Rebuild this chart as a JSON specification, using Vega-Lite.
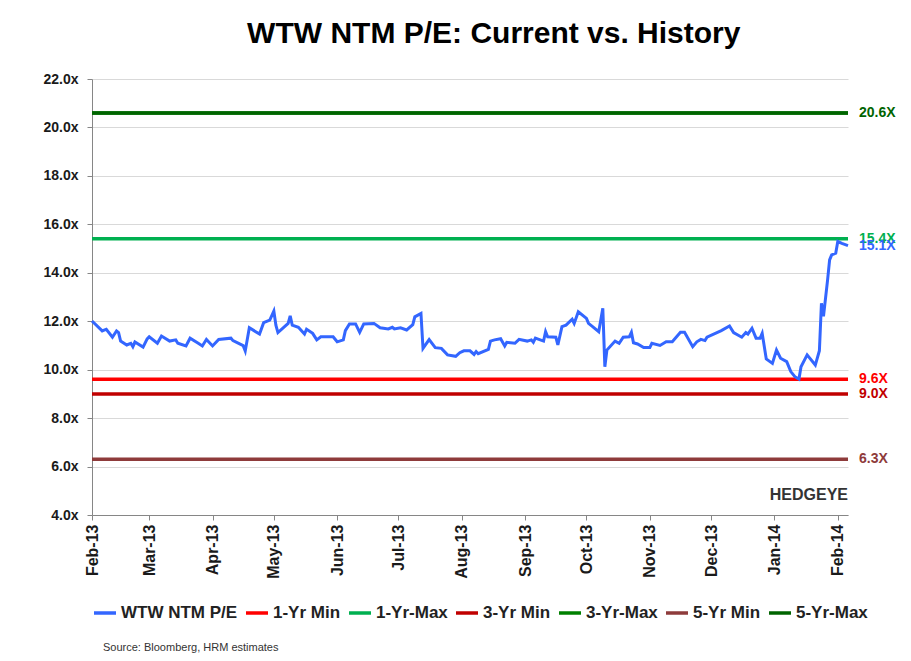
{
  "$schema": "https://vega.github.io/schema/vega-lite/v6.json",
  "background": "white",
  "padding": {"left": 42, "top": 19, "right": 5, "bottom": 5},
  "title": {"text": "WTW NTM P/E: Current vs. History", "fontSize": 30, "font": "Liberation Sans", "fontWeight": "bold", "color": "#000000", "anchor": "middle", "offset": 23, "dx": 25},
  "datasets": {
    "pe": [
      {"date": "2013-02-01", "value": 12.01}, {"date": "2013-02-06", "value": 11.60}, {"date": "2013-02-08", "value": 11.67},
      {"date": "2013-02-11", "value": 11.34}, {"date": "2013-02-13", "value": 11.60}, {"date": "2013-02-14", "value": 11.53},
      {"date": "2013-02-15", "value": 11.18}, {"date": "2013-02-18", "value": 11.02}, {"date": "2013-02-20", "value": 11.09},
      {"date": "2013-02-21", "value": 10.95}, {"date": "2013-02-22", "value": 11.14}, {"date": "2013-02-26", "value": 10.93},
      {"date": "2013-02-28", "value": 11.27}, {"date": "2013-03-01", "value": 11.36}, {"date": "2013-03-05", "value": 11.09},
      {"date": "2013-03-07", "value": 11.39}, {"date": "2013-03-11", "value": 11.18}, {"date": "2013-03-14", "value": 11.23},
      {"date": "2013-03-15", "value": 11.09}, {"date": "2013-03-19", "value": 10.98}, {"date": "2013-03-21", "value": 11.30},
      {"date": "2013-03-25", "value": 11.09}, {"date": "2013-03-27", "value": 10.98}, {"date": "2013-03-29", "value": 11.25},
      {"date": "2013-04-01", "value": 10.98}, {"date": "2013-04-04", "value": 11.25}, {"date": "2013-04-10", "value": 11.30},
      {"date": "2013-04-11", "value": 11.20}, {"date": "2013-04-16", "value": 10.99}, {"date": "2013-04-17", "value": 10.77},
      {"date": "2013-04-19", "value": 11.73}, {"date": "2013-04-24", "value": 11.47}, {"date": "2013-04-26", "value": 11.94},
      {"date": "2013-04-29", "value": 12.05}, {"date": "2013-05-01", "value": 12.42}, {"date": "2013-05-02", "value": 11.84},
      {"date": "2013-05-03", "value": 11.53}, {"date": "2013-05-08", "value": 11.91}, {"date": "2013-05-09", "value": 12.22},
      {"date": "2013-05-10", "value": 11.84}, {"date": "2013-05-13", "value": 11.75}, {"date": "2013-05-16", "value": 11.47},
      {"date": "2013-05-17", "value": 11.67}, {"date": "2013-05-20", "value": 11.50}, {"date": "2013-05-22", "value": 11.23},
      {"date": "2013-05-24", "value": 11.36}, {"date": "2013-05-30", "value": 11.36}, {"date": "2013-06-01", "value": 11.15},
      {"date": "2013-06-04", "value": 11.23}, {"date": "2013-06-05", "value": 11.61}, {"date": "2013-06-07", "value": 11.89},
      {"date": "2013-06-10", "value": 11.89}, {"date": "2013-06-12", "value": 11.54}, {"date": "2013-06-14", "value": 11.89},
      {"date": "2013-06-19", "value": 11.91}, {"date": "2013-06-22", "value": 11.73}, {"date": "2013-06-26", "value": 11.68},
      {"date": "2013-06-28", "value": 11.75}, {"date": "2013-06-29", "value": 11.68}, {"date": "2013-07-02", "value": 11.73},
      {"date": "2013-07-05", "value": 11.64}, {"date": "2013-07-08", "value": 11.86}, {"date": "2013-07-09", "value": 12.18},
      {"date": "2013-07-12", "value": 12.32}, {"date": "2013-07-13", "value": 10.88}, {"date": "2013-07-16", "value": 11.24},
      {"date": "2013-07-19", "value": 10.91}, {"date": "2013-07-22", "value": 10.88}, {"date": "2013-07-25", "value": 10.61},
      {"date": "2013-07-29", "value": 10.55}, {"date": "2013-07-31", "value": 10.70}, {"date": "2013-08-02", "value": 10.78},
      {"date": "2013-08-05", "value": 10.78}, {"date": "2013-08-07", "value": 10.63}, {"date": "2013-08-08", "value": 10.75},
      {"date": "2013-08-09", "value": 10.66}, {"date": "2013-08-14", "value": 10.84}, {"date": "2013-08-15", "value": 11.18},
      {"date": "2013-08-17", "value": 11.23}, {"date": "2013-08-20", "value": 11.28}, {"date": "2013-08-22", "value": 10.98},
      {"date": "2013-08-23", "value": 11.13}, {"date": "2013-08-27", "value": 11.09}, {"date": "2013-08-29", "value": 11.25},
      {"date": "2013-09-02", "value": 11.18}, {"date": "2013-09-04", "value": 11.23}, {"date": "2013-09-05", "value": 11.13},
      {"date": "2013-09-06", "value": 11.30}, {"date": "2013-09-10", "value": 11.18}, {"date": "2013-09-11", "value": 11.57},
      {"date": "2013-09-12", "value": 11.36}, {"date": "2013-09-16", "value": 11.34}, {"date": "2013-09-17", "value": 11.02},
      {"date": "2013-09-19", "value": 11.78}, {"date": "2013-09-21", "value": 11.84}, {"date": "2013-09-24", "value": 12.08},
      {"date": "2013-09-25", "value": 11.91}, {"date": "2013-09-27", "value": 12.39}, {"date": "2013-10-01", "value": 12.12},
      {"date": "2013-10-02", "value": 11.91}, {"date": "2013-10-04", "value": 11.78}, {"date": "2013-10-07", "value": 11.57},
      {"date": "2013-10-09", "value": 12.53}, {"date": "2013-10-10", "value": 10.12}, {"date": "2013-10-11", "value": 10.81},
      {"date": "2013-10-15", "value": 11.18}, {"date": "2013-10-17", "value": 11.09}, {"date": "2013-10-19", "value": 11.34},
      {"date": "2013-10-22", "value": 11.36}, {"date": "2013-10-23", "value": 11.54}, {"date": "2013-10-24", "value": 11.11},
      {"date": "2013-10-26", "value": 11.06}, {"date": "2013-10-29", "value": 10.91}, {"date": "2013-11-01", "value": 10.91},
      {"date": "2013-11-02", "value": 11.09}, {"date": "2013-11-06", "value": 11.00}, {"date": "2013-11-09", "value": 11.15},
      {"date": "2013-11-12", "value": 11.15}, {"date": "2013-11-16", "value": 11.54}, {"date": "2013-11-18", "value": 11.54},
      {"date": "2013-11-22", "value": 10.95}, {"date": "2013-11-24", "value": 11.15}, {"date": "2013-11-26", "value": 11.25},
      {"date": "2013-11-28", "value": 11.20}, {"date": "2013-11-29", "value": 11.34}, {"date": "2013-12-06", "value": 11.61},
      {"date": "2013-12-10", "value": 11.80}, {"date": "2013-12-12", "value": 11.53}, {"date": "2013-12-16", "value": 11.34},
      {"date": "2013-12-18", "value": 11.53}, {"date": "2013-12-19", "value": 11.47}, {"date": "2013-12-21", "value": 11.71},
      {"date": "2013-12-23", "value": 11.30}, {"date": "2013-12-25", "value": 11.30}, {"date": "2013-12-26", "value": 11.50},
      {"date": "2013-12-28", "value": 10.44}, {"date": "2013-12-31", "value": 10.26}, {"date": "2014-01-02", "value": 10.81},
      {"date": "2014-01-04", "value": 10.47}, {"date": "2014-01-07", "value": 10.33}, {"date": "2014-01-09", "value": 9.92},
      {"date": "2014-01-11", "value": 9.71}, {"date": "2014-01-13", "value": 9.61}, {"date": "2014-01-14", "value": 10.12},
      {"date": "2014-01-17", "value": 10.61}, {"date": "2014-01-21", "value": 10.19}, {"date": "2014-01-23", "value": 10.78},
      {"date": "2014-01-24", "value": 12.74}, {"date": "2014-01-25", "value": 12.20}, {"date": "2014-01-27", "value": 13.70},
      {"date": "2014-01-28", "value": 14.53}, {"date": "2014-01-29", "value": 14.74}, {"date": "2014-01-31", "value": 14.81},
      {"date": "2014-02-01", "value": 15.29}, {"date": "2014-02-03", "value": 15.21}, {"date": "2014-02-06", "value": 15.12}
    ],
    "refs": [
      {"series": "1-Yr Min", "date": "2013-02-01", "value": 9.6}, {"series": "1-Yr Min", "date": "2014-02-06", "value": 9.6},
      {"series": "1-Yr-Max", "date": "2013-02-01", "value": 15.4}, {"series": "1-Yr-Max", "date": "2014-02-06", "value": 15.4},
      {"series": "3-Yr Min", "date": "2013-02-01", "value": 9.0}, {"series": "3-Yr Min", "date": "2014-02-06", "value": 9.0},
      {"series": "3-Yr-Max", "date": "2013-02-01", "value": 20.6}, {"series": "3-Yr-Max", "date": "2014-02-06", "value": 20.6},
      {"series": "5-Yr Min", "date": "2013-02-01", "value": 6.3}, {"series": "5-Yr Min", "date": "2014-02-06", "value": 6.3},
      {"series": "5-Yr-Max", "date": "2013-02-01", "value": 20.6}, {"series": "5-Yr-Max", "date": "2014-02-06", "value": 20.6}
    ],
    "labels": [
      {"series": "5-Yr-Max", "value": 20.6, "label": "20.6X"},
      {"series": "1-Yr-Max", "value": 15.4, "label": "15.4X"},
      {"series": "WTW NTM P/E", "value": 15.12, "label": "15.1X"},
      {"series": "1-Yr Min", "value": 9.6, "label": "9.6X"},
      {"series": "3-Yr Min", "value": 9.0, "label": "9.0X"},
      {"series": "5-Yr Min", "value": 6.3, "label": "6.3X"}
    ]
  },
  "vconcat": [
    {
      "width": 756,
      "height": 436,
      "title": {"text": "Source: Bloomberg, HRM estimates", "orient": "bottom", "anchor": "start", "frame": "group", "dx": 11, "offset": 64, "fontSize": 11, "fontWeight": "normal", "font": "Liberation Sans", "color": "#333333"},
      "layer": [
        {
          "data": {"name": "refs"},
          "mark": {"type": "line", "strokeWidth": 3.5, "interpolate": "linear"},
          "encoding": {
            "x": {"field": "date", "type": "temporal",
              "scale": {"type": "utc", "domain": [{"year": 2013, "month": 2, "date": 1, "utc": true}, {"year": 2014, "month": 2, "date": 6, "utc": true}]},
              "axis": {
                "title": null,
                "labelExpr": "utcFormat(datum.value, '%b-%y')",
                "values": [
                  {"year": 2013, "month": 2, "date": 1, "utc": true}, {"year": 2013, "month": 3, "date": 1, "utc": true},
                  {"year": 2013, "month": 4, "date": 1, "utc": true}, {"year": 2013, "month": 5, "date": 1, "utc": true},
                  {"year": 2013, "month": 6, "date": 1, "utc": true}, {"year": 2013, "month": 7, "date": 1, "utc": true},
                  {"year": 2013, "month": 8, "date": 1, "utc": true}, {"year": 2013, "month": 9, "date": 1, "utc": true},
                  {"year": 2013, "month": 10, "date": 1, "utc": true}, {"year": 2013, "month": 11, "date": 1, "utc": true},
                  {"year": 2013, "month": 12, "date": 1, "utc": true}, {"year": 2014, "month": 1, "date": 1, "utc": true},
                  {"year": 2014, "month": 2, "date": 1, "utc": true}
                ],
                "labelAngle": 270, "labelAlign": "right", "labelBaseline": "middle",
                "labelFontSize": 16, "labelFontWeight": "bold", "labelColor": "#1a1a1a", "labelFont": "Liberation Sans",
                "labelPadding": 4, "labelOverlap": false, "labelFlush": false,
                "tickSize": 5, "tickColor": "#868686", "domainColor": "#868686", "grid": false
              }
            },
            "y": {"field": "value", "type": "quantitative",
              "scale": {"domain": [4, 22], "nice": false, "zero": false},
              "axis": {
                "title": null, "values": [4, 6, 8, 10, 12, 14, 16, 18, 20, 22],
                "labelExpr": "format(datum.value, '.1f') + 'x'",
                "labelFontSize": 14, "labelFontWeight": "bold", "labelColor": "#1a1a1a", "labelFont": "Liberation Sans",
                "labelPadding": 9, "tickSize": 5, "tickColor": "#868686", "domainColor": "#868686",
                "grid": true, "gridColor": "#D9D9D9", "gridWidth": 1,
                "minExtent": 50, "maxExtent": 50
              }
            },
            "color": {"field": "series", "type": "nominal",
              "scale": {
                "domain": ["WTW NTM P/E", "1-Yr Min", "1-Yr-Max", "3-Yr Min", "3-Yr-Max", "5-Yr Min", "5-Yr-Max"],
                "range": ["#3366FF", "#FF0000", "#00B050", "#C00000", "#008000", "#8E3B3B", "#006400"]
              },
              "legend": {
                "title": null, "orient": "none", "legendX": 0, "legendY": 521, "direction": "horizontal",
                "gridAlign": "none",
                "symbolType": "stroke", "symbolStrokeWidth": 3.5, "symbolSize": 484,
                "labelFontSize": 17, "labelFontWeight": "bold", "labelColor": "#222222", "labelFont": "Liberation Sans",
                "labelOffset": 3, "columnPadding": 1, "labelLimit": 300
              }
            }
          }
        },
        {
          "data": {"name": "pe"},
          "mark": {"type": "line", "strokeWidth": 3},
          "encoding": {
            "x": {"field": "date", "type": "temporal"},
            "y": {"field": "value", "type": "quantitative"},
            "color": {"datum": "WTW NTM P/E"}
          }
        },
        {
          "data": {"name": "labels"},
          "mark": {"type": "text", "align": "left", "baseline": "middle", "dx": 11, "fontSize": 14, "fontWeight": "bold", "font": "Liberation Sans"},
          "encoding": {
            "x": {"datum": {"year": 2014, "month": 2, "date": 6, "utc": true}, "type": "temporal"},
            "y": {"field": "value", "type": "quantitative"},
            "text": {"field": "label"},
            "color": {"field": "series", "type": "nominal", "legend": null}
          }
        },
        {
          "data": {"values": [{"logo": "HEDGEYE"}]},
          "mark": {"type": "text", "align": "right", "baseline": "middle", "fontSize": 16, "fontWeight": "bold", "font": "Liberation Sans", "color": "#333333"},
          "encoding": {
            "x": {"datum": {"year": 2014, "month": 2, "date": 6, "utc": true}, "type": "temporal"},
            "y": {"datum": 4.83, "type": "quantitative"},
            "text": {"field": "logo"}
          }
        }
      ]
    }
  ],
  "config": {
    "view": {"stroke": null},
    "font": "Liberation Sans"
  }
}
